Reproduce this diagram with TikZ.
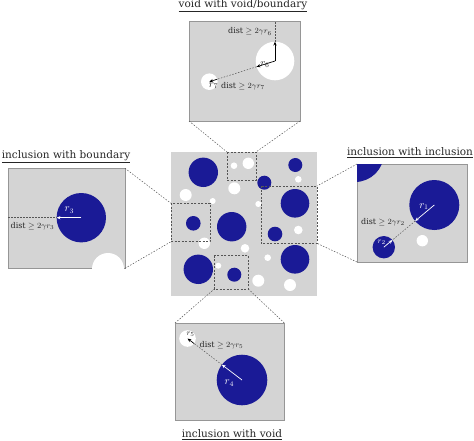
\documentclass[tikz,border=0pt]{standalone}
\usepackage{fontspec}
\setmainfont{DejaVu Serif}
\usetikzlibrary{calc,arrows.meta}
\definecolor{inclc}{RGB}{26,26,150}
\definecolor{mgray}{RGB}{212,212,212}
\definecolor{frameg}{RGB}{150,150,150}
\definecolor{dashg}{RGB}{85,85,85}
\definecolor{txtg}{RGB}{40,40,40}
\begin{document}
\begin{tikzpicture}[x=1pt,y=-1pt,
  panel/.style={fill=mgray, draw=frameg, line width=0.5pt},
  zoombox/.style={draw=dashg, dash pattern=on 2pt off 1.5pt, line width=0.6pt},
  link/.style={draw=dashg, dash pattern=on 1.5pt off 1.5pt, line width=0.5pt},
  rarr/.style={-{Stealth[length=3.8pt,width=3.2pt]}, line width=0.7pt},
  title/.style={font=\fontsize{10.5}{12}\selectfont, text=black!85, inner sep=0pt},
  lab/.style={font=\fontsize{8}{9}\selectfont, text=txtg, inner sep=0.5pt},
  rlab/.style={font=\fontsize{10.5}{11}\selectfont, text=txtg, inner sep=0.5pt}]
\useasboundingbox (0,0) rectangle (474,440);

% ---------- centre square ----------
\fill[mgray] (171,152) rectangle (317,296);
\foreach \x/\y/\r in {203.3/172.3/14.7, 295.3/165/7, 264.3/182.7/7, 295/203.3/14.3,
  193.3/223.3/7.3, 231.7/226.7/14.7, 275/234/7.3, 295/259.3/14.3, 198.3/269.3/14.7, 234.3/274.7/7}
  \fill[inclc] (\x,\y) circle (\r pt);
\foreach \x/\y/\r in {234/165.7/3.3, 248.3/163.3/5.7, 234.3/188.3/6, 185.7/195/6, 212.7/201/3,
  258.3/204/3, 298.3/179.3/3.3, 204.3/243.3/5.7, 245/248.3/4.3, 298.3/230/4.3, 267.7/257.7/3.3,
  218.3/265.7/3, 258.3/280.7/6, 290/285/6}
  \fill[white] (\x,\y) circle (\r pt);

% zoom boxes in the centre
\coordinate (tbnw) at (227,152); \coordinate (tbse) at (256,180);
\coordinate (lbnw) at (171,203.3); \coordinate (lbse) at (210,241.7);
\coordinate (rbnw) at (261,186); \coordinate (rbse) at (317,243.3);
\coordinate (bbnw) at (214.3,255.7); \coordinate (bbse) at (248.3,289);
\draw[zoombox] (tbnw) rectangle (tbse);
\draw[zoombox] (lbnw) rectangle (lbse);
\draw[zoombox] (rbnw) rectangle (rbse);
\draw[zoombox] (bbnw) rectangle (bbse);

% ---------- top panel: void with void/boundary ----------
\coordinate (tpnw) at (189,21.7); \coordinate (tpse) at (300,121);
\draw[panel] (tpnw) rectangle (tpse);
\node[title] (ttop) at (243,6) {\underline{void with void/boundary}};
\coordinate (c6) at (275,61); \coordinate (c7) at (209.3,81.7);
\fill[white] (c6) circle (19.3pt);
\fill[white] (c7) circle (8.3pt);
\coordinate (b6up) at ($(c6)+(0,-19.3)$);
\coordinate (t6) at (275,21.7);
\draw[link] (b6up) -- (t6);
\draw[rarr] (c6) -- (b6up);
\coordinate (b6) at ($(c6)!19.3pt!(c7)$);
\coordinate (b7) at ($(c7)!8.3pt!(c6)$);
\draw[link] (b6) -- (b7);
\draw[rarr] (c6) -- (b6);
\draw[rarr] (b7) -- (c7);
\node[lab, anchor=east] (d6) at (272.5,31.7) {dist $\geq 2\gamma r_6$};
\node[rlab] (l6) at (265,64.5) {$r_6$};
\node[rlab] (l7) at (213.5,85.5) {$r_7$};
\node[lab] (d7) at (243,86) {dist $\geq 2\gamma r_7$};

% ---------- left panel: inclusion with boundary ----------
\coordinate (lpnw) at (8.3,168.3); \coordinate (lpse) at (125,268.3);
\draw[panel] (lpnw) rectangle (lpse);
\begin{scope}
  \clip (lpnw) rectangle (lpse);
  \fill[white] (108,269) circle (16pt);
\end{scope}
\node[title] (tleft) at (66,156.5) {\underline{inclusion with boundary}};
\coordinate (c3) at (81.3,217.7);
\fill[inclc] (c3) circle (24.7pt);
\coordinate (b3) at ($(c3)+(-24.7,0)$);
\coordinate (e3) at (8.3,217.7);
\draw[link] (e3) -- (b3);
\draw[rarr, white] (c3) -- (b3);
\node[rlab, text=white] (l3) at (69.3,210) {$r_3$};
\node[lab] (d3) at (32.5,226.5) {dist $\geq 2\gamma r_3$};

% ---------- right panel: inclusion with inclusion ----------
\coordinate (rpnw) at (357,164); \coordinate (rpse) at (467,262);
\draw[panel] (rpnw) rectangle (rpse);
\begin{scope}
  \clip (rpnw) rectangle (rpse);
  \fill[inclc] (355,153) circle (29pt);
\end{scope}
\node[title] (tright) at (410,153) {\underline{inclusion with inclusion}};
\coordinate (c1) at (434.3,205); \coordinate (c2) at (383.8,247.2);
\fill[inclc] (c1) circle (25pt);
\fill[inclc] (c2) circle (11.2pt);
\fill[white] (422.3,240.7) circle (5.7pt);
\coordinate (b1) at ($(c1)!25pt!(c2)$);
\coordinate (b2) at ($(c2)!11.2pt!(c1)$);
\draw[link] (b1) -- (b2);
\draw[rarr, white] (c1) -- (b1);
\draw[rarr, white] (c2) -- (b2);
\node[rlab, text=white] (l1) at (424,206.7) {$r_1$};
\node[rlab, text=white, font=\fontsize{8.5}{9}\selectfont] (l2) at (381.7,242) {$r_2$};
\node[lab] (d2) at (383,222.3) {dist $\geq 2\gamma r_2$};

% ---------- bottom panel: inclusion with void ----------
\coordinate (bpnw) at (175,323); \coordinate (bpse) at (284.3,420);
\draw[panel] (bpnw) rectangle (bpse);
\node[title] (tbot) at (232,435) {\underline{inclusion with void}};
\coordinate (c4) at (242,380); \coordinate (c5) at (187.5,338.5);
\fill[inclc] (c4) circle (25.3pt);
\fill[white] (c5) circle (8.3pt);
\coordinate (b4) at ($(c4)!25.3pt!(c5)$);
\coordinate (b5) at ($(c5)!8.3pt!(c4)$);
\draw[link] (b4) -- (b5);
\draw[rarr, white] (c4) -- (b4);
\draw[rarr] (b5) -- (c5);
\node[rlab, font=\fontsize{8.5}{9}\selectfont] (l5) at (190.5,334) {$r_5$};
\node[rlab, text=white] (l4) at (229.3,383) {$r_4$};
\node[lab] (d5) at (221.5,345) {dist $\geq 2\gamma r_5$};

% ---------- connectors from panels to zoom boxes ----------
\draw[link] (tpnw |- tpse) -- (tbnw);
\draw[link] (tpse) -- (tbse |- tbnw);
\draw[link] (lpse |- lpnw) -- (lbnw);
\draw[link] (lpse) -- (lbnw |- lbse);
\draw[link] (rpnw) -- (rbse |- rbnw);
\draw[link] (rpnw |- rpse) -- (rbse);
\draw[link] (bpnw) -- (bbnw |- bbse);
\draw[link] (bpse |- bpnw) -- (bbse);
\end{tikzpicture}
\end{document}
